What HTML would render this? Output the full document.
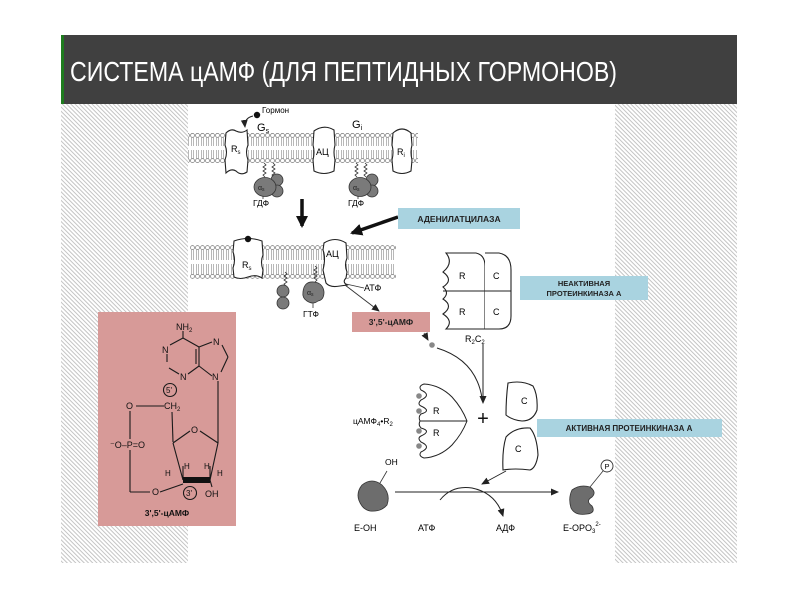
<!DOCTYPE html>
<html><head><meta charset="utf-8">
<style>
html,body{margin:0;padding:0;background:#fff;width:800px;height:600px;overflow:hidden}
svg{display:block}
text{font-family:"Liberation Sans","DejaVu Sans",sans-serif}
</style></head><body>
<svg width="800" height="600" viewBox="0 0 800 600" xmlns="http://www.w3.org/2000/svg">
<defs>
<pattern id="hatch" width="3" height="10" patternUnits="userSpaceOnUse" patternTransform="rotate(-45)">
<rect x="0" y="0" width="1" height="10" fill="#c4c4c4"/>
</pattern>
<pattern id="mem1" x="0" y="133" width="5" height="30" patternUnits="userSpaceOnUse">
<circle cx="2.5" cy="2.4" r="2" fill="#fff" stroke="#777" stroke-width="0.7"/>
<line x1="1.7" y1="4.5" x2="1.7" y2="13" stroke="#888" stroke-width="0.6"/>
<line x1="3.3" y1="4.5" x2="3.3" y2="13" stroke="#888" stroke-width="0.6"/>
<line x1="1.7" y1="17" x2="1.7" y2="25.5" stroke="#888" stroke-width="0.6"/>
<line x1="3.3" y1="17" x2="3.3" y2="25.5" stroke="#888" stroke-width="0.6"/>
<circle cx="2.5" cy="27.6" r="2" fill="#fff" stroke="#777" stroke-width="0.7"/>
</pattern>
<pattern id="mem2" x="0" y="245" width="5" height="34" patternUnits="userSpaceOnUse">
<circle cx="2.5" cy="2.6" r="2" fill="#fff" stroke="#777" stroke-width="0.7"/>
<line x1="1.7" y1="4.8" x2="1.7" y2="15" stroke="#888" stroke-width="0.6"/>
<line x1="3.3" y1="4.8" x2="3.3" y2="15" stroke="#888" stroke-width="0.6"/>
<line x1="1.7" y1="19" x2="1.7" y2="29.2" stroke="#888" stroke-width="0.6"/>
<line x1="3.3" y1="19" x2="3.3" y2="29.2" stroke="#888" stroke-width="0.6"/>
<circle cx="2.5" cy="31.4" r="2" fill="#fff" stroke="#777" stroke-width="0.7"/>
</pattern>
<marker id="ah" markerWidth="8" markerHeight="8" refX="7" refY="4" orient="auto" markerUnits="userSpaceOnUse">
<path d="M0,0.5 L8,4 L0,7.5 Z" fill="#222"/>
</marker>
<marker id="ahb" markerWidth="12" markerHeight="12" refX="10" refY="6" orient="auto" markerUnits="userSpaceOnUse">
<path d="M0,0 L12,6 L0,12 Z" fill="#111"/>
</marker>
</defs>

<!-- title bar -->
<rect x="61" y="35" width="676" height="69" fill="#404040"/>
<rect x="61" y="35" width="3" height="69" fill="#1e7b1e"/>
<text x="70" y="81" font-size="28" fill="#fff" textLength="547" lengthAdjust="spacingAndGlyphs">СИСТЕМА цАМФ (ДЛЯ ПЕПТИДНЫХ ГОРМОНОВ)</text>

<!-- hatched side areas -->
<rect x="61" y="104" width="127" height="459" fill="url(#hatch)"/>
<rect x="615" y="104" width="122" height="459" fill="url(#hatch)"/>

<!-- ===== top membrane ===== -->
<rect x="188" y="133" width="230" height="30" fill="url(#mem1)"/>
<g fill="#fff" stroke="#222" stroke-width="1.1">
<path d="M226,133 Q231,128 236,131 Q242,134 247,130 L248,145 Q245,152 248,160 L247,172 Q241,176 236,171 Q231,168 226,173 L225,160 Q228,152 225,145 Z"/>
<path d="M314,131 Q324,124 334,130 L335,145 Q333,152 335,160 L334,171 Q324,176 314,171 L313,160 Q315,152 313,145 Z"/>
<path d="M393,133 Q402,125 411,133 L412,145 Q410,152 412,160 L411,171 Q402,176 393,171 L392,160 Q394,152 392,145 Z"/>
</g>
<text x="231" y="152" font-size="9">R<tspan font-size="6" dy="2">s</tspan></text>
<text x="316" y="155" font-size="9">АЦ</text>
<text x="397" y="155" font-size="9">R<tspan font-size="6" dy="2">i</tspan></text>
<circle cx="257" cy="115" r="3.2" fill="#111"/>
<text x="262" y="113" font-size="8">Гормон</text>
<path d="M253,116 Q244,118 245,127" fill="none" stroke="#222" stroke-width="1" marker-end="url(#ah)"/>
<text x="257" y="131" font-size="11">G<tspan font-size="7" dy="2">s</tspan></text>
<text x="352" y="128" font-size="11">G<tspan font-size="7" dy="2">i</tspan></text>
<g fill="none" stroke="#333" stroke-width="0.8">
<path d="M264,163 l2,2 l-3,2 l3,2 l-3,2 l3,2 l-3,2 l2,2"/>
<path d="M273,163 l2,2 l-3,2 l3,2 l-3,2 l3,2 l-3,2 l2,2"/>
<path d="M356,163 l2,2 l-3,2 l3,2 l-3,2 l3,2 l-3,2 l2,2"/>
<path d="M365,163 l2,2 l-3,2 l3,2 l-3,2 l3,2 l-3,2 l2,2"/>
</g>
<g fill="#7a7a7a" stroke="#333" stroke-width="0.8">
<circle cx="277" cy="180" r="6"/><circle cx="277" cy="191" r="6"/>
<ellipse cx="265" cy="187" rx="11" ry="9.5"/>
<circle cx="372" cy="180" r="6"/><circle cx="372" cy="191" r="6"/>
<ellipse cx="360" cy="187" rx="11" ry="9.5"/>
</g>
<text x="258" y="190" font-size="7" fill="#222">α<tspan font-size="5" dy="1">s</tspan></text>
<text x="353" y="190" font-size="7" fill="#222">α<tspan font-size="5" dy="1">s</tspan></text>
<line x1="263" y1="196" x2="263" y2="199" stroke="#333" stroke-width="0.8"/>
<line x1="358" y1="196" x2="358" y2="199" stroke="#333" stroke-width="0.8"/>
<text x="253" y="206" font-size="8.5">ГДФ</text>
<text x="348" y="206" font-size="8.5">ГДФ</text>

<!-- big arrows -->
<line x1="302" y1="199" x2="302" y2="226" stroke="#111" stroke-width="3.5" marker-end="url(#ahb)"/>
<line x1="398" y1="217" x2="352" y2="233" stroke="#111" stroke-width="3.5" marker-end="url(#ahb)"/>

<!-- blue labels -->
<rect x="398" y="208" width="122" height="21" fill="#a9d3e0"/>
<text x="459" y="222" font-size="8.5" font-weight="bold" text-anchor="middle" fill="#222">АДЕНИЛАТЦИЛАЗА</text>
<rect x="520" y="276" width="128" height="24" fill="#a9d3e0"/>
<text x="584" y="286" font-size="7.5" font-weight="bold" text-anchor="middle" fill="#222">НЕАКТИВНАЯ</text>
<text x="584" y="296" font-size="7.5" font-weight="bold" text-anchor="middle" fill="#222">ПРОТЕИНКИНАЗА А</text>
<rect x="537" y="419" width="185" height="18" fill="#a9d3e0"/>
<text x="629" y="431" font-size="8" font-weight="bold" text-anchor="middle" fill="#222">АКТИВНАЯ ПРОТЕИНКИНАЗА А</text>

<!-- ===== second membrane ===== -->
<rect x="190" y="245" width="206" height="34" fill="url(#mem2)"/>
<g fill="#fff" stroke="#222" stroke-width="1.1">
<path d="M234,241 Q248,236 262,241 L263,255 Q260,262 263,270 L262,278 Q256,274 248,277 Q240,280 234,277 L233,268 Q236,260 233,252 Z"/>
<path d="M324,243 Q335,236 346,243 L347,258 Q344,265 347,272 L346,278 Q342,282 347,285 L340,286 Q330,288 326,283 L323,270 Q326,258 323,250 Z"/>
</g>
<circle cx="248" cy="239" r="3.2" fill="#111"/>
<text x="242" y="268" font-size="9">R<tspan font-size="6" dy="2">s</tspan></text>
<text x="326" y="257" font-size="9">АЦ</text>
<g fill="none" stroke="#333" stroke-width="0.8">
<path d="M285,272 l2,2 l-3,2 l3,2 l-3,2 l3,2 l-3,2 l2,2"/>
<path d="M315,266 l2,2 l-3,2 l3,2 l-3,2 l3,2 l-3,2 l3,2 l-2,2"/>
</g>
<g fill="#7a7a7a" stroke="#333" stroke-width="0.8">
<circle cx="283" cy="291" r="6"/><circle cx="283" cy="303" r="6"/>
<path d="M303,292 Q304,281 314,282 Q323,283 324,292 Q324,300 318,301 Q313,305 307,301 Q302,298 303,292 Z"/>
</g>
<text x="307" y="295" font-size="7" fill="#222">α<tspan font-size="5" dy="1">s</tspan></text>
<line x1="313" y1="303" x2="313" y2="308" stroke="#333" stroke-width="0.8"/>
<text x="303" y="317" font-size="8.5">ГТФ</text>
<line x1="346" y1="284" x2="364" y2="288" stroke="#333" stroke-width="0.8"/>
<text x="364" y="291" font-size="9">АТФ</text>
<line x1="345" y1="285" x2="379" y2="311" stroke="#333" stroke-width="0.9" marker-end="url(#ah)"/>

<!-- pink cAMP label -->
<rect x="352" y="312" width="78" height="20" fill="#d79a98"/>
<text x="391" y="325" font-size="8.5" font-weight="bold" text-anchor="middle" fill="#222">3',5'-цАМФ</text>
<line x1="424" y1="333" x2="428" y2="340" stroke="#444" stroke-width="0.8" marker-end="url(#ah)"/>
<circle cx="432" cy="345" r="2.8" fill="#888"/>

<!-- R2C2 -->
<g fill="#fff" stroke="#222" stroke-width="1.1">
<path d="M446,253 L476,253 Q485,255 485,266 L485,329 L446,329 Q454,321 443,314 Q454,306 443,299 Q450,293 443,287 Q454,280 443,272 Q454,263 446,253 Z"/>
<path d="M485,253 L499,253 Q511,255 511,270 L511,316 Q511,329 499,329 L485,329"/>
</g>
<line x1="443" y1="291" x2="511" y2="291" stroke="#222" stroke-width="1"/>
<text x="459" y="279" font-size="9">R</text>
<text x="459" y="315" font-size="9">R</text>
<text x="493" y="279" font-size="9">C</text>
<text x="493" y="315" font-size="9">C</text>
<text x="465" y="342" font-size="9">R<tspan font-size="6" dy="2">2</tspan><tspan dy="-2">C</tspan><tspan font-size="6" dy="2">2</tspan></text>

<line x1="483" y1="344" x2="483" y2="403" stroke="#222" stroke-width="1" marker-end="url(#ah)"/>
<path d="M437,348 Q476,360 482,398" fill="none" stroke="#222" stroke-width="1"/>
<text x="483" y="425" font-size="20" text-anchor="middle" fill="#111">+</text>

<!-- cAMP4 R2 -->
<g fill="#fff" stroke="#222" stroke-width="1">
<path d="M467,421 Q462,408 452,397 Q440,385 424,384 Q418,386 421,390 Q432,395 421,400 Q417,404 421,406 Q432,411 421,414 Q418,417 420,421 Q418,425 421,428 Q432,431 421,436 Q417,438 421,442 Q432,447 421,452 Q418,456 424,458 Q440,457 452,445 Q462,434 467,421 Z"/>
<line x1="420" y1="421" x2="467" y2="421"/>
</g>
<g fill="#888"><circle cx="419" cy="396" r="2.8"/><circle cx="419" cy="411" r="2.8"/><circle cx="419" cy="431" r="2.8"/><circle cx="419" cy="446" r="2.8"/></g>
<text x="433" y="414" font-size="9">R</text>
<text x="433" y="436" font-size="9">R</text>
<text x="353" y="424" font-size="8.5">цАМФ<tspan font-size="6" dy="2">4</tspan><tspan dy="-2">•R</tspan><tspan font-size="6" dy="2">2</tspan></text>

<!-- C subunits -->
<g fill="#fff" stroke="#222" stroke-width="1.1">
<path d="M508,383 Q522,380 533,386 Q538,395 537,410 Q533,421 522,421 Q512,420 506,415 Q506,398 508,383 Z"/>
<path d="M503,470 Q502,450 506,437 Q515,427 530,428 Q537,436 538,455 Q536,468 530,470 Q515,468 503,470 Z"/>
</g>
<text x="521" y="404" font-size="9">C</text>
<text x="515" y="452" font-size="9">C</text>
<line x1="506" y1="471" x2="482" y2="484" stroke="#222" stroke-width="0.9" marker-end="url(#ah)"/>

<!-- reaction -->
<path d="M362,506 Q354,495 362,485 Q372,477 382,485 Q391,494 387,505 Q381,512 370,511 Q365,510 362,506 Z" fill="#6d6d6d" stroke="#333" stroke-width="0.8"/>
<line x1="380" y1="483" x2="387" y2="471" stroke="#333" stroke-width="0.8"/>
<text x="385" y="465" font-size="8.5">OH</text>
<line x1="395" y1="492" x2="558" y2="492" stroke="#222" stroke-width="1" marker-end="url(#ah)"/>
<path d="M440,500 Q452,485 472,488 Q496,493 503,516" fill="none" stroke="#222" stroke-width="1" marker-end="url(#ah)"/>
<path d="M572,490 Q580,484 590,487 Q597,492 592,497 Q585,501 592,506 Q596,513 587,514 Q575,516 571,508 Q568,498 572,490 Z" fill="#6d6d6d" stroke="#333" stroke-width="0.8"/>
<line x1="590" y1="487" x2="603" y2="471" stroke="#333" stroke-width="0.8"/>
<circle cx="607" cy="466" r="6" fill="#fff" stroke="#333" stroke-width="0.9"/>
<text x="607" y="469" font-size="7.5" text-anchor="middle">P</text>
<text x="354" y="531" font-size="9">E-OH</text>
<text x="418" y="531" font-size="9">АТФ</text>
<text x="496" y="531" font-size="9">АДФ</text>
<text x="563" y="531" font-size="9">E-OPO<tspan font-size="6" dy="2">3</tspan><tspan font-size="6" dy="-7">2-</tspan></text>

<!-- ===== pink box cAMP structure ===== -->
<rect x="98" y="312" width="138" height="214" fill="#d79a98"/>
<g stroke="#1a1a1a" stroke-width="1.1" fill="none">
<line x1="183" y1="331" x2="183" y2="338"/>
<line x1="183" y1="338" x2="170" y2="345"/>
<line x1="167" y1="354" x2="167" y2="362"/>
<line x1="169" y1="368" x2="179" y2="374"/>
<line x1="188" y1="374" x2="199" y2="366"/>
<line x1="199" y1="366" x2="199" y2="347"/>
<line x1="199" y1="347" x2="183" y2="338"/>
<line x1="196" y1="364" x2="196" y2="349"/>
<line x1="199" y1="347" x2="212" y2="342"/>
<line x1="222" y1="345" x2="228" y2="357"/>
<line x1="228" y1="357" x2="221" y2="372"/>
<line x1="212" y1="376" x2="199" y2="366"/>
<line x1="218" y1="381" x2="218" y2="443"/>
<line x1="136" y1="406" x2="164" y2="406"/>
<line x1="172" y1="412" x2="173" y2="442"/>
<line x1="130" y1="411" x2="130" y2="439"/>
<line x1="130" y1="450" x2="130" y2="492"/>
<line x1="130" y1="492" x2="150" y2="492"/>
<line x1="160" y1="492" x2="183" y2="484"/>
<line x1="173" y1="443" x2="190" y2="431"/>
<line x1="200" y1="431" x2="218" y2="443"/>
<line x1="173" y1="443" x2="183" y2="480"/>
<line x1="218" y1="443" x2="210" y2="480"/>
<line x1="183" y1="480" x2="183" y2="466"/>
<line x1="210" y1="480" x2="210" y2="466"/>
<line x1="210" y1="480" x2="212" y2="487"/>
<circle cx="170" cy="390" r="6.5"/>
<circle cx="190" cy="493" r="6.5"/>
</g>
<path d="M183,477 L210,477 L210,483 L183,483 Z" fill="#111"/>
<g font-size="9" fill="#111">
<text x="176" y="330">NH<tspan font-size="6" dy="2">2</tspan></text>
<text x="162" y="353">N</text>
<text x="180" y="380">N</text>
<text x="213" y="345">N</text>
<text x="212" y="380">N</text>
<text x="166" y="393" font-size="8">5'</text>
<text x="126" y="409">O</text>
<text x="164" y="409">CH<tspan font-size="6" dy="2">2</tspan></text>
<text x="110" y="448">⁻O–P=O</text>
<text x="191" y="433">O</text>
<text x="152" y="495">O</text>
<text x="184" y="469" font-size="8">H</text>
<text x="204" y="469" font-size="8">H</text>
<text x="165" y="476" font-size="8">H</text>
<text x="217" y="476" font-size="8">H</text>
<text x="186" y="496" font-size="8">3'</text>
<text x="205" y="497">OH</text>
<text x="167" y="516" font-size="8.5" text-anchor="middle" font-weight="bold">3',5'-цАМФ</text>
</g>
</svg>
</body></html>
